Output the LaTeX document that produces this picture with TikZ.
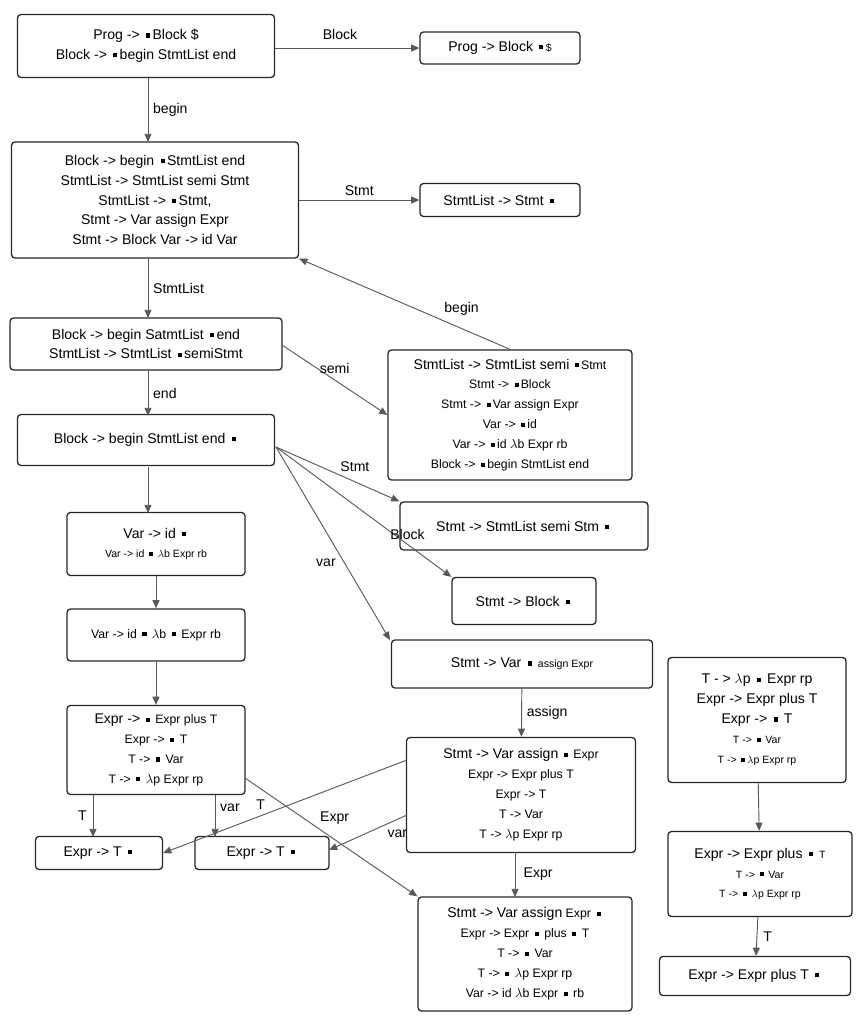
\documentclass[tikz,border=0pt]{standalone}
\usepackage{fontspec}
\setmainfont{Liberation Sans}
\usetikzlibrary{arrows.meta}
\newcommand{\dt}{\,\rule[0.3ex]{3.5pt}{3.5pt}\,}
\tikzset{
  state/.style={draw=black!85, line width=1.1pt, rounded corners=3pt, align=center,
    inner sep=2pt, font=\fontsize{12}{17}\selectfont},
  sm/.style={font=\fontsize{10.5}{17}\selectfont},
  tr/.style={draw=black!65, line width=0.8pt, -{Triangle[length=7pt,width=6pt]}},
  lbl/.style={font=\fontsize{12}{14}\selectfont, inner sep=1pt}
}
\begin{document}
\begin{tikzpicture}[x=0.03cm,y=-0.03cm]
\useasboundingbox (0,0) rectangle (868,1024);

% states
\node[state, minimum width=7.71cm, minimum height=1.89cm] (prog) at (146,46)
  {Prog -> \dt Block \$\\ Block -> \dt begin StmtList end};
\node[state, minimum width=4.8cm, minimum height=0.96cm] (progend) at (500,48)
  {Prog -> Block \dt {\small\$}};
\node[state, minimum width=8.61cm, minimum height=3.48cm] (blk) at (155,200)
  {Block -> begin \dt StmtList end\\ StmtList -> StmtList semi Stmt\\ StmtList -> \dt Stmt,\\
   Stmt -> Var assign Expr\\ Stmt -> Block Var -> id Var};
\node[state, minimum width=4.8cm, minimum height=0.99cm] (slstmt) at (500,200)
  {StmtList -> Stmt \dt};
\node[state, minimum width=8.16cm, minimum height=1.56cm] (blksl) at (146,344)
  {Block -> begin SatmtList \dt end\\ StmtList -> StmtList \dt semiStmt};
\node[state, sm, minimum width=7.32cm, minimum height=3.9cm] (semi) at (510,415)
  {{\large StmtList -> StmtList semi} \dt Stmt\\ Stmt -> \dt Block\\ Stmt -> \dt Var assign Expr\\
   Var -> \dt id\\ Var -> \dt id $\lambda$b Expr rb\\ Block -> \dt begin StmtList end};
\node[state, minimum width=7.71cm, minimum height=1.53cm] (blkend) at (146,440)
  {Block -> begin StmtList end \dt};
\node[state, minimum width=7.44cm, minimum height=1.44cm] (stmtsl) at (524,526)
  {Stmt -> StmtList semi Stm \dt};
\node[state, minimum width=4.32cm, minimum height=1.41cm] (stmtblk) at (524,601)
  {Stmt -> Block \dt};
\node[state, minimum width=5.34cm, minimum height=1.89cm] (varid) at (156,544)
  {Var -> id \dt\\ {\small Var -> id \dt\ $\lambda$b Expr rb}};
\node[state, sm, minimum width=5.34cm, minimum height=1.56cm] (varlb) at (156,635)
  {Var -> id \dt\ $\lambda$b \dt\ Expr rb};
\node[state, minimum width=7.83cm, minimum height=1.44cm] (stmtvar) at (522,664)
  {Stmt -> Var \dt\ {\small assign Expr}};
\node[state, sm, minimum width=5.34cm, minimum height=2.67cm] (expr) at (156,750)
  {{\large Expr ->} \dt\ Expr plus T\\ Expr -> \dt\ T\\ T -> \dt\ Var\\ T -> \dt\ $\lambda$p Expr rp};
\node[state, sm, minimum width=6.87cm, minimum height=3.45cm] (assign) at (521,795)
  {{\large Stmt -> Var assign} \dt\ Expr\\ Expr -> Expr plus T\\ Expr -> T\\ T -> Var\\ T -> $\lambda$p Expr rp};
\node[state, minimum width=3.81cm, minimum height=0.99cm] (exprt) at (99,853)
  {Expr -> T \dt};
\node[state, minimum width=4.02cm, minimum height=0.99cm] (exprtb) at (262,853)
  {Expr -> T \dt};
\node[state, sm, minimum width=6.42cm, minimum height=3.42cm] (assignend) at (525,954)
  {{\large Stmt -> Var assign} Expr \dt\\ Expr -> Expr \dt\ plus \dt\ T\\ T -> \dt\ Var\\
   T -> \dt\ $\lambda$p Expr rp\\ Var -> id $\lambda$b Expr \dt\ rb};
\node[state, minimum width=5.34cm, minimum height=3.75cm] (tlp) at (757,720)
  {T - > $\lambda$p \dt\ Expr rp\\ Expr -> Expr plus T\\ Expr -> \dt\ T\\ {\small T -> \dt\ Var}\\ {\small T -> \dt$\lambda$p Expr rp}};
\node[state, minimum width=5.52cm, minimum height=2.55cm] (plus) at (760,874)
  {Expr -> Expr plus \dt\ {\small T}\\ {\small T -> \dt\ Var}\\ {\small T -> \dt\ $\lambda$p Expr rp}};
\node[state, minimum width=5.73cm, minimum height=1.17cm] (plust) at (755,976)
  {Expr -> Expr plus T \dt};

% transitions
\draw[tr] (prog.east |- progend) -- (progend.west) node[lbl, pos=0.45, above=6pt] (l1) {Block};
\draw[tr] (148,78) -- (148,142) node[lbl, midway, right=3pt] (l2) {begin};
\draw[tr] (blk.east |- slstmt) -- (slstmt.west) node[lbl, midway, above=2pt] (l3) {Stmt};
\draw[tr] (148,258) -- (148,318) node[lbl, midway, right=3pt] (l4) {StmtList};
\draw[tr] (semi.north) -- (blk.south east) node[lbl, pos=0.33, above right=2pt] (l5) {begin};
\draw[tr] (282,345) -- (semi.west) node[lbl, pos=0.5, above=4pt] (l6) {semi};
\draw[tr] (148,370) -- (148,416) node[lbl, midway, right=3pt] (l7) {end};
\coordinate (bx) at (276,447);
\draw[tr] (bx) -- (stmtsl.north west) node[lbl, pos=0.5, above right=1pt] (l8) {Stmt};
\draw[tr] (bx) -- (stmtblk.north west) node[lbl, pos=0.75, above=3pt] (l9) {Block};
\draw[tr] (bx) -- (390,640) node[lbl, pos=0.6, left=6pt] (l10) {var};
\draw[tr] (148,467) -- (148,513);
\draw[tr] (varid) -- (varlb);
\draw[tr] (varlb) -- (expr);
\draw[tr] (93,795) -- (93,837) node[lbl, midway, left=4pt] (l11) {T};
\draw[tr] (215,795) -- (215,837) node[lbl, pos=0.3, right=3pt] (l12) {var};
\draw[tr] (245,778) -- (assignend.north west) node[lbl, pos=0.42, above right=1pt] (l13) {Expr};
\draw[tr] (407,760) -- (exprt.east) node[lbl, pos=0.6, above=4pt] (l14) {T};
\draw[tr] (407,815) -- (329,850) node[lbl, pos=0.3, below right=2pt] (l15) {var};
\draw[tr] (stmtvar) -- (assign) node[lbl, midway, right=3pt] (l16) {assign};
\draw[tr] (515,852) -- (515,897) node[lbl, midway, right=6pt] (l17) {Expr};
\draw[tr] (tlp) -- (plus);
\draw[tr] (plus) -- (plust) node[lbl, midway, right=4pt] (l18) {T};
\end{tikzpicture}
\end{document}
